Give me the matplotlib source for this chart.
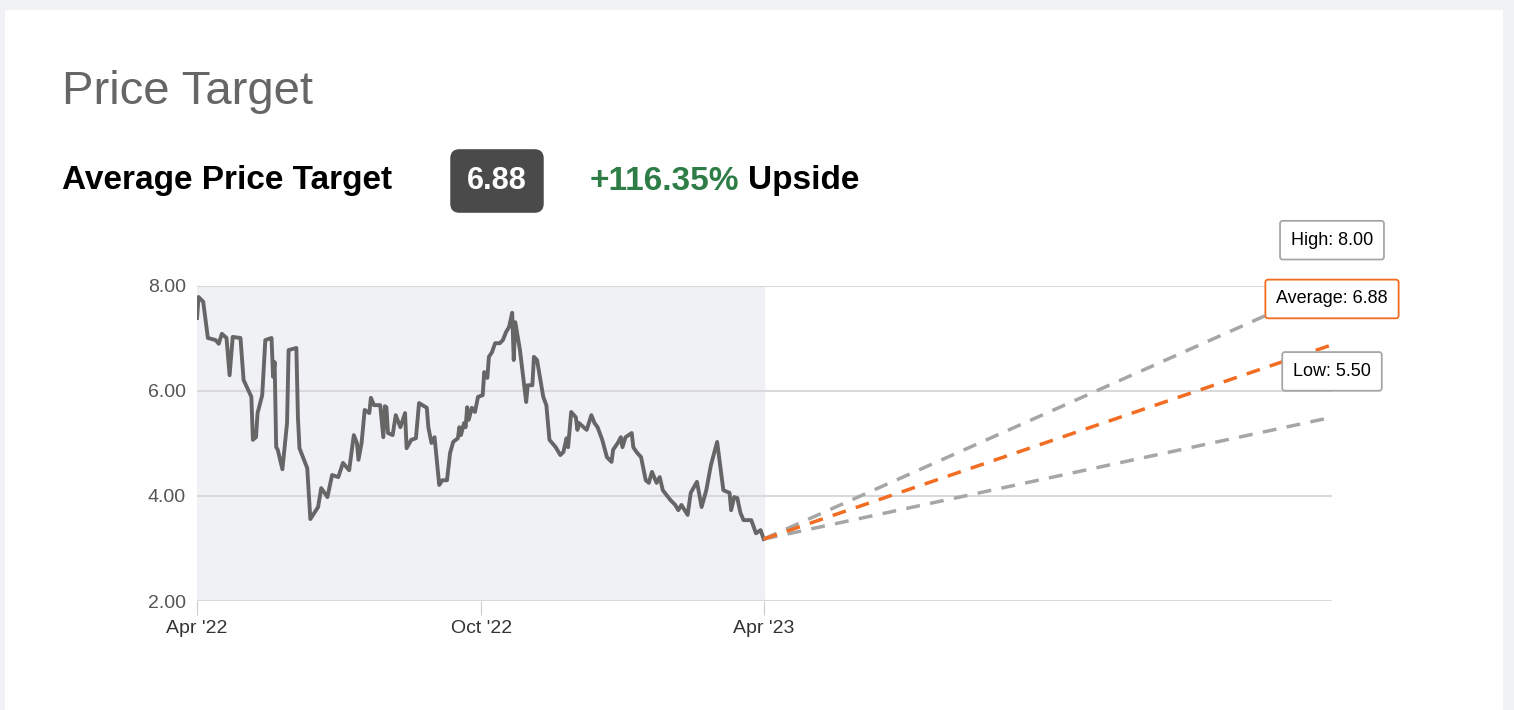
import numpy as np
import matplotlib.pyplot as plt
import matplotlib.dates as mdates
from matplotlib.patches import Rectangle
import datetime as dt

plt.rcParams['font.family'] = ['Liberation Sans', 'DejaVu Sans']

# price history: days since 1 Apr 2022, closing price
days = [0, 1, 4, 7, 12, 14, 16, 19, 21, 23, 28, 30, 35, 36, 38, 39, 42, 44, 48, 49, 50, 51, 52, 55,
        58, 59, 64, 65, 66, 71, 73, 78, 80, 84, 87, 91, 94, 98, 101, 103, 104, 106, 108, 111, 112,
        114, 118, 120, 121, 122, 123, 126, 128, 131, 134, 135, 138, 141, 143, 148, 149, 151, 153,
        156, 158, 161, 163, 165, 168, 169, 170, 172, 173, 174, 175, 177, 179, 181, 184, 185, 187,
        188, 190, 192, 195, 197, 199, 201, 203, 204, 205, 208, 212, 213, 216, 217, 219, 223, 225,
        227, 231, 234, 236, 238, 239, 241, 244, 245, 246, 249, 251, 254, 256, 258, 261, 264, 267,
        268, 271, 273, 274, 276, 280, 281, 283, 286, 289, 291, 293, 296, 298, 300, 305, 308, 310,
        312, 316, 318, 322, 325, 328, 331, 335, 339, 343, 344, 346, 348, 350, 352, 357, 360, 363, 365]
prices = [7.39, 7.79, 7.70, 7.01, 6.97, 6.90, 7.09, 7.01, 6.30, 7.03, 7.01, 6.21, 5.89, 5.07, 5.12,
          5.58, 5.92, 6.97, 7.01, 6.27, 6.55, 4.93, 4.88, 4.51, 5.39, 6.78, 6.82, 5.50, 4.91, 4.53,
          3.56, 3.79, 4.15, 3.98, 4.40, 4.36, 4.63, 4.49, 5.16, 5.01, 4.69, 5.01, 5.64, 5.58, 5.87,
          5.73, 5.73, 5.12, 5.71, 5.69, 5.20, 5.16, 5.54, 5.31, 5.58, 4.91, 5.07, 5.10, 5.77, 5.68,
          5.31, 5.01, 5.12, 4.21, 4.30, 4.30, 4.82, 5.03, 5.10, 5.31, 5.16, 5.39, 5.31, 5.69, 5.45,
          5.68, 5.60, 5.89, 5.92, 6.36, 6.25, 6.65, 6.74, 6.91, 6.91, 6.97, 7.12, 7.22, 7.49, 6.59,
          7.31, 6.78, 5.79, 6.11, 6.11, 6.65, 6.59, 5.89, 5.73, 5.07, 4.93, 4.78, 4.84, 5.10, 4.93,
          5.60, 5.50, 5.26, 5.39, 5.31, 5.26, 5.54, 5.39, 5.31, 5.07, 4.74, 4.65, 4.88, 5.01, 5.12,
          4.93, 5.12, 5.20, 4.93, 4.84, 4.74, 4.30, 4.25, 4.46, 4.25, 4.36, 4.11, 3.92, 3.83, 3.73,
          3.83, 3.64, 4.06, 4.27, 3.79, 4.11, 4.59, 5.03, 4.11, 4.06, 3.73, 3.98, 3.96, 3.68, 3.54,
          3.54, 3.29, 3.35, 3.18]

start = dt.date(2022, 4, 1)
today = dt.date(2023, 4, 1)
target_date = dt.date(2024, 4, 1)
high, avg, low = 8.00, 6.88, 5.50
upside = "+116.35%"
tick_dates = [dt.date(2022, 4, 1), dt.date(2022, 10, 1), dt.date(2023, 4, 1)]
tick_labels = ["Apr '22", "Oct '22", "Apr '23"]

dates = [start + dt.timedelta(days=d) for d in days]
last = prices[-1]

W, H = 1514, 710
fig = plt.figure(figsize=(W / 100, H / 100), dpi=100)
fig.patch.set_facecolor("#f0f2f5")
fig.patches.append(Rectangle((5 / W, 0), 1498 / W, 700 / H, transform=fig.transFigure,
                             facecolor="white", edgecolor="none", zorder=-5))

fig.text(62 / W, 1 - 92 / H, "Price Target", fontsize=34, color="#666666", va="center")
fig.text(62 / W, 1 - 181 / H, "Average Price Target", fontsize=24, fontweight="bold",
         color="black", va="center")
fig.text(497 / W, 1 - 181 / H, f"{avg:.2f}", fontsize=22, fontweight="bold", color="white",
         va="center", ha="center",
         bbox=dict(boxstyle="round,pad=0.55,rounding_size=0.3", facecolor="#4a4a4a", edgecolor="none"))
t1 = fig.text(590 / W, 1 - 181 / H, upside, fontsize=24, fontweight="bold", color="#2e7d46",
              va="center")
fig.canvas.draw()
bb = t1.get_window_extent()
fig.text(bb.x1 / W + 8 / W, 1 - 181 / H, "Upside", fontsize=24, fontweight="bold",
         color="black", va="center")

ax = fig.add_axes([197 / W, 1 - 601 / H, (1332 - 197) / W, (601 - 286) / H])
ax.set_facecolor("none")
ax.set_ylim(2, 8)
ax.set_xlim(mdates.date2num(start), mdates.date2num(target_date))
ax.axvspan(mdates.date2num(start), mdates.date2num(today), color="#f0f1f5", zorder=0)
for yv in [2, 4, 6, 8]:
    ax.axhline(yv, color="#d9d9d9", lw=1.5, zorder=1)
ax.set_yticks([2, 4, 6, 8])
ax.set_yticklabels([f"{v:.2f}" for v in [2, 4, 6, 8]])
ax.set_xticks([mdates.date2num(d) for d in tick_dates])
ax.set_xticklabels(tick_labels)
ax.tick_params(axis="y", length=0, labelsize=14, labelcolor="#555555", pad=8)
ax.tick_params(axis="x", length=10, color="#cccccc", labelsize=14, labelcolor="#333333", pad=4)
for s in ax.spines.values():
    s.set_visible(False)

ax.plot(mdates.date2num(dates), prices, color="#666666", lw=2.8, zorder=3)
x0, x1 = mdates.date2num(today), mdates.date2num(target_date)
ax.plot([x0, x1], [last, high], color="#a6a6a6", lw=2.5, ls=(0, (4, 3)), zorder=3)
ax.plot([x0, x1], [last, low], color="#a6a6a6", lw=2.5, ls=(0, (4, 3)), zorder=3)
ax.plot([x0, x1], [last, avg], color="#f26d21", lw=2.5, ls=(0, (4, 3)), zorder=4)

for val, lab, ec in [(high, "High", "#a6a6a6"), (avg, "Average", "#f26d21"), (low, "Low", "#a6a6a6")]:
    ax.annotate(f"{lab}: {val:.2f}", xy=(x1, val), xytext=(0, 33), textcoords="offset points",
                ha="center", va="center", fontsize=13, color="black", annotation_clip=False,
                bbox=dict(boxstyle="round,pad=0.6,rounding_size=0.15", facecolor="white",
                          edgecolor=ec, lw=1.3),
                zorder=6)

fig.savefig("out.png", dpi=100, facecolor=fig.get_facecolor())
